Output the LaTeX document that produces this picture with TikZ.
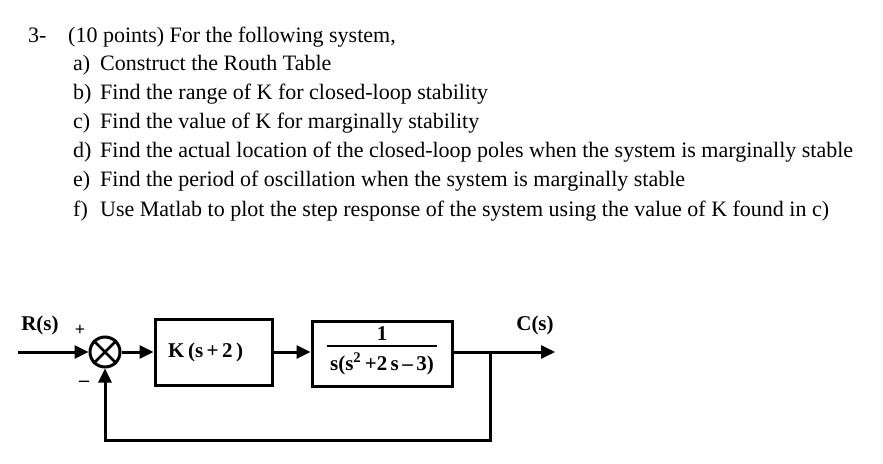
\documentclass[tikz,border=0pt]{standalone}
\usepackage{fontspec}
\setmainfont{Liberation Serif}
\usetikzlibrary{arrows.meta}
\begin{document}
\begin{tikzpicture}[x=1pt,y=-1pt,
  txt/.style={anchor=base west,inner sep=0pt,font=\fontsize{22}{24}\selectfont},
  blk/.style={draw,line width=3pt,inner sep=0pt},
  lab/.style={font=\bfseries\fontsize{21}{24}\selectfont,inner sep=0pt},
  wire/.style={line width=3pt},
  arr/.style={wire,-{Triangle[length=14pt,width=13pt]}}]
\useasboundingbox (0,0) rectangle (883,463);
\node[txt] (t0) at (28,42) {3-};
\node[txt] (t1) at (68,42) {(10 points) For the following system,};
\foreach \l/\s/\y in {a/Construct the Routh Table/70,
  b/Find the range of K for closed-loop stability/99,
  c/Find the value of K for marginally stability/128,
  d/Find the actual location of the closed-loop poles when the system is marginally stable/157,
  e/Find the period of oscillation when the system is marginally stable/186,
  f/Use Matlab to plot the step response of the system using the value of K found in c)/216}
  {\node[txt] (l\l) at (73,\y) {\l)}; \node[txt] (s\l) at (100,\y) {\s};}
\node[draw,circle,line width=3pt,minimum size=30pt,inner sep=0pt] (sum) at (105,352) {};
\draw[line width=2.5pt] (sum.north west)--(sum.south east) (sum.north east)--(sum.south west);
\node[blk,minimum width=117pt,minimum height=66pt] (g1) at (213.5,352) {};
\node[lab,anchor=west] (g1t) at (168,352) {K\,(s\,+\,2\,)};
\node[blk,minimum width=140pt,minimum height=65pt] (g2) at (382,354) {};
\node[lab] (num) at (382,334) {1};
\draw[line width=1.5pt] (327,346)--(437,346);
\node[lab] (den) at (382,364) {s(s\textsuperscript{2}\,+2\,s\,--\,3)};
\coordinate (in) at (18,352);
\coordinate (out) at (555,352);
\coordinate (br) at (490,352);
\coordinate (c1) at (490,440);
\coordinate (c2) at (105,440);
\draw[arr] (in)--(sum.west);
\draw[arr] (sum.east)--(g1.west);
\draw[arr] (g1.east)--(g2.west|-g1.east);
\draw[arr] (g2.east|-br)--(out);
\draw[arr] (br)--(c1)--(c2)--(sum.south);
\node[lab] (r) at (40,325) {R(s)};
\node[lab] (c) at (535,325) {C(s)};
\node[font=\bfseries\fontsize{18}{18}\selectfont,inner sep=0pt] (p) at (80,330) {+};
\node[font=\bfseries\fontsize{20}{18}\selectfont,inner sep=0pt] (m) at (84,384) {--};
\end{tikzpicture}
\end{document}
